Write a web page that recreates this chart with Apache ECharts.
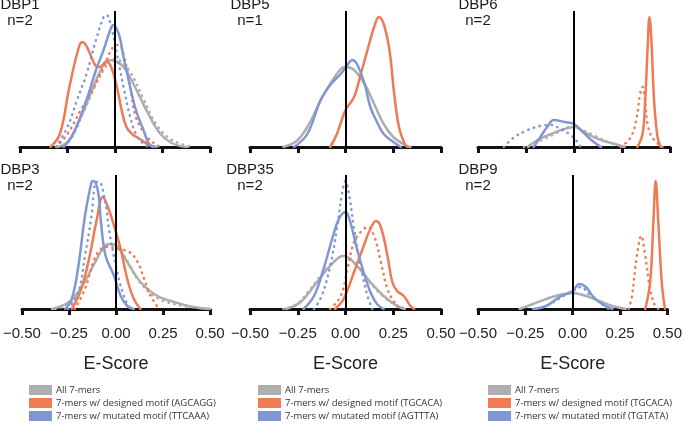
<!DOCTYPE html>
<html>
<head>
<meta charset="utf-8">
<script src="https://cdn.jsdelivr.net/npm/echarts@6/dist/echarts.min.js"></script>
<style>
html,body{margin:0;padding:0;background:#fff}
#main{width:685px;height:425px}
</style>
</head>
<body>
<div id="main"></div>
<script>
//x axis ticks
var xTicks = [-0.5, -0.25, 0, 0.25, 0.5];

//panel titles
var panelNames = ['DBP1', 'DBP5', 'DBP6', 'DBP3', 'DBP35', 'DBP9'];
var panelN = [2, 1, 2, 2, 2, 2];

//legend text per column
var legendCol1 = ['All 7-mers', '7-mers w/ designed motif (AGCAGG)', '7-mers w/ mutated motif (TTCAAA)'];
var legendCol2 = ['All 7-mers', '7-mers w/ designed motif (TGCACA)', '7-mers w/ mutated motif (AGTTTA)'];
var legendCol3 = ['All 7-mers', '7-mers w/ designed motif (TGCACA)', '7-mers w/ mutated motif (TGTATA)'];

//density curves [E-score, relative density], rep 1 = solid, rep 2 = dotted
//DBP1
var dbp1All1 = [[-0.31,0],[-0.25,5],[-0.18,30],[-0.11,62],[-0.08,75],[-0.035,87],[0,86],[0.045,80],[0.1,62],[0.17,35],[0.24,13],[0.31,3],[0.38,0]];
var dbp1All2 = [[-0.3,0],[-0.24,6],[-0.17,33],[-0.1,63],[-0.05,80],[-0.01,88],[0.03,86],[0.08,75],[0.15,48],[0.22,22],[0.3,7],[0.41,0]];
var dbp1Des1 = [[-0.34,0],[-0.29,13],[-0.24,60],[-0.19,100],[-0.17,105],[-0.14,97],[-0.105,82],[-0.08,80],[-0.045,85],[-0.02,80],[0.01,60],[0.035,37],[0.06,20],[0.09,13],[0.13,8],[0.17,3],[0.2,0]];
var dbp1Des2 = [[-0.31,0],[-0.25,13],[-0.18,37],[-0.11,60],[-0.06,80],[-0.01,100],[0.02,102],[0.045,93],[0.08,60],[0.11,30],[0.17,10],[0.22,2],[0.25,0]];
var dbp1Mut1 = [[-0.27,0],[-0.22,13],[-0.15,47],[-0.1,77],[-0.06,97],[-0.025,117],[-0.01,122],[0.02,113],[0.045,90],[0.08,60],[0.11,37],[0.15,17],[0.18,3],[0.22,0]];
var dbp1Mut2 = [[-0.31,0],[-0.25,20],[-0.2,47],[-0.15,73],[-0.1,107],[-0.06,130],[-0.045,132],[-0.02,120],[0.01,93],[0.045,60],[0.08,30],[0.11,13],[0.15,3],[0.18,0]];
//DBP5
var dbp5All1 = [[-0.325,0],[-0.25,7],[-0.18,27],[-0.13,47],[-0.08,63],[-0.025,78],[0,80],[0.045,77],[0.1,63],[0.15,43],[0.2,23],[0.25,10],[0.31,2],[0.34,0]];
var dbp5Des1 = [[-0.08,0],[-0.045,13],[0,37],[0.045,50],[0.08,73],[0.115,97],[0.15,120],[0.175,130],[0.2,123],[0.23,97],[0.255,53],[0.28,20],[0.31,3],[0.325,0]];
var dbp5Mut1 = [[-0.27,0],[-0.2,13],[-0.13,47],[-0.08,62],[-0.025,73],[0.01,82],[0.035,87],[0.06,83],[0.1,63],[0.13,40],[0.17,23],[0.2,13],[0.25,5],[0.29,0]];
//DBP6
var dbp6All1 = [[-0.24,0],[-0.19,7],[-0.12,13],[-0.05,18],[0,20],[0.07,13],[0.14,7],[0.23,2],[0.26,0]];
var dbp6All2 = [[-0.26,0],[-0.19,5],[-0.1,13],[-0.02,20],[0.03,18],[0.1,12],[0.19,4],[0.28,0]];
var dbp6Des1 = [[0.33,0],[0.357,13],[0.371,47],[0.383,97],[0.393,130],[0.404,103],[0.417,47],[0.435,10],[0.452,0]];
var dbp6Des2 = [[0.243,0],[0.296,10],[0.327,30],[0.344,53],[0.357,60],[0.369,47],[0.386,20],[0.417,7],[0.461,0]];
var dbp6Mut1 = [[-0.21,0],[-0.175,10],[-0.14,20],[-0.105,27],[-0.05,25],[0,23],[0.035,17],[0.09,7],[0.14,0]];
var dbp6Mut2 = [[-0.365,0],[-0.31,10],[-0.24,17],[-0.175,21],[-0.12,22],[-0.07,18],[-0.025,13],[0.01,7],[0.035,0]];
//DBP3
var dbp3All1 = [[-0.34,0],[-0.25,7],[-0.18,23],[-0.11,47],[-0.06,63],[-0.025,65],[0.01,62],[0.06,47],[0.13,27],[0.22,13],[0.31,7],[0.41,2],[0.5,0]];
var dbp3All2 = [[-0.325,0],[-0.237,7],[-0.167,27],[-0.096,53],[-0.044,63],[-0.009,64],[0.044,53],[0.114,30],[0.202,13],[0.307,5],[0.447,1]];
var dbp3Des1 = [[-0.235,0],[-0.185,20],[-0.14,53],[-0.105,87],[-0.07,112],[-0.045,103],[-0.01,83],[0.025,60],[0.06,30],[0.095,10],[0.13,0]];
var dbp3Des2 = [[-0.22,0],[-0.165,20],[-0.115,50],[-0.08,60],[-0.045,62],[0.01,60],[0.07,57],[0.115,47],[0.15,30],[0.185,13],[0.23,0]];
var dbp3Mut1 = [[-0.27,0],[-0.235,10],[-0.2,43],[-0.165,93],[-0.13,127],[-0.12,128],[-0.095,117],[-0.08,87],[-0.055,53],[-0.01,33],[0.025,13],[0.06,3],[0.095,0]];
var dbp3Mut2 = [[-0.255,0],[-0.2,17],[-0.165,53],[-0.13,93],[-0.105,127],[-0.09,127],[-0.06,110],[-0.035,77],[0,43],[0.035,17],[0.07,2],[0.09,0]];
//DBP35
var dbp35All1 = [[-0.31,0],[-0.235,7],[-0.165,23],[-0.095,40],[-0.045,50],[-0.02,53],[0.01,52],[0.06,43],[0.13,27],[0.2,13],[0.27,3],[0.31,0]];
var dbp35All2 = [[-0.325,0],[-0.254,5],[-0.184,20],[-0.114,37],[-0.044,50],[-0.009,53],[0.044,47],[0.114,30],[0.184,15],[0.254,5],[0.325,0]];
var dbp35Des1 = [[-0.055,0],[-0.01,10],[0.045,37],[0.095,63],[0.13,80],[0.16,88],[0.185,82],[0.22,53],[0.245,27],[0.27,18],[0.305,13],[0.34,3],[0.36,0]];
var dbp35Des2 = [[-0.08,0],[-0.025,13],[0.01,40],[0.045,67],[0.08,77],[0.115,82],[0.15,73],[0.185,47],[0.22,20],[0.255,7],[0.29,0]];
var dbp35Mut1 = [[-0.22,0],[-0.165,13],[-0.115,40],[-0.07,70],[-0.035,90],[0,97],[0.025,87],[0.06,60],[0.095,37],[0.13,17],[0.165,5],[0.2,0]];
var dbp35Mut2 = [[-0.165,0],[-0.125,13],[-0.08,43],[-0.045,80],[-0.02,113],[0,128],[0.02,113],[0.045,80],[0.08,43],[0.115,13],[0.14,0]];
//DBP9
var dbp9All1 = [[-0.28,0],[-0.21,5],[-0.14,10],[-0.07,14],[0,16],[0.07,13],[0.14,8],[0.21,3],[0.28,0]];
var dbp9Des1 = [[0.383,0],[0.409,27],[0.426,87],[0.438,128],[0.452,87],[0.47,27],[0.487,0]];
var dbp9Des2 = [[0.296,0],[0.313,13],[0.339,53],[0.362,73],[0.383,53],[0.409,20],[0.435,3],[0.452,0]];
var dbp9Mut1 = [[-0.21,0],[-0.14,3],[-0.07,12],[0,18],[0.035,25],[0.07,22],[0.105,13],[0.155,5],[0.21,0]];
var dbp9Mut2 = [[-0.19,0],[-0.12,5],[-0.05,13],[0,18],[0.045,22],[0.085,15],[0.14,7],[0.19,0]];

var curves = [
	{all: [dbp1All1, dbp1All2], des: [dbp1Des1, dbp1Des2], mut: [dbp1Mut1, dbp1Mut2]},
	{all: [dbp5All1], des: [dbp5Des1], mut: [dbp5Mut1]},
	{all: [dbp6All1, dbp6All2], des: [dbp6Des1, dbp6Des2], mut: [dbp6Mut1, dbp6Mut2]},
	{all: [dbp3All1, dbp3All2], des: [dbp3Des1, dbp3Des2], mut: [dbp3Mut1, dbp3Mut2]},
	{all: [dbp35All1, dbp35All2], des: [dbp35Des1, dbp35Des2], mut: [dbp35Mut1, dbp35Mut2]},
	{all: [dbp9All1], des: [dbp9Des1, dbp9Des2], mut: [dbp9Mut1, dbp9Mut2]}
];
var legends = [legendCol1, legendCol2, legendCol3];

var GRAY = '#aeaeae', ORANGE = '#f07a52', BLUE = '#7f98d4';
var colLeft = [20, 250, 478], colWidth = [190, 191, 192];
var rowTop = [11, 175], rowHeight = [136, 134];

function fmtTick(v){
	return (v < 0 ? '\u2212' : '') + Math.abs(v).toFixed(2);
}

function lineSeries(idx, data, color, dotted){
	return {
		type: 'line',
		xAxisIndex: idx,
		yAxisIndex: idx,
		data: data,
		showSymbol: false,
		smooth: 0.4,
		silent: true,
		lineStyle: {
			color: color,
			width: 2.5,
			type: dotted ? [0.5, 5.5] : 'solid',
			cap: 'round',
			join: 'round'
		},
		itemStyle: {color: color}
	};
}

var chart = echarts.init(document.getElementById('main'));
var grids = [], xAxes = [], yAxes = [], series = [], graphics = [];

for (var i = 0; i < 6; i++) {
	var col = i % 3, row = Math.floor(i / 3);
	grids.push({left: colLeft[col], top: rowTop[row], width: colWidth[col], height: rowHeight[row]});
	xAxes.push({
		gridIndex: i,
		type: 'value',
		min: xTicks[0],
		max: xTicks[xTicks.length - 1],
		interval: 0.25,
		axisLine: {lineStyle: {color: '#111', width: 3}},
		axisTick: {show: true, length: 6, lineStyle: {color: '#111', width: 3}},
		axisLabel: {
			show: row == 1,
			formatter: fmtTick,
			fontFamily: 'Liberation Sans',
			fontSize: 15,
			color: '#222',
			margin: 17,
			showMinLabel: true,
			showMaxLabel: true,
			hideOverlap: false
		},
		splitLine: {show: false},
		name: row == 1 ? 'E-Score' : '',
		nameLocation: 'middle',
		nameGap: 46,
		nameTextStyle: {fontFamily: 'Liberation Sans', fontSize: 18, color: '#222'}
	});
	yAxes.push({gridIndex: i, type: 'value', min: 0, max: rowHeight[row], show: false});

	var c = curves[i];
	var groups = [[c.all, GRAY], [c.des, ORANGE], [c.mut, BLUE]];
	for (var g = 0; g < groups.length; g++) {
		var reps = groups[g][0];
		for (var r = reps.length - 1; r >= 0; r--) {
			series.push(lineSeries(i, reps[r], groups[g][1], r == 1));
		}
	}
	//zero line
	var last = series[series.length - 1];
	last.markLine = {
		silent: true,
		symbol: ['none', 'none'],
		label: {show: false},
		lineStyle: {color: '#000', width: 2, type: 'solid'},
		data: [{xAxis: 0}]
	};

	//panel title
	graphics.push({
		type: 'text',
		x: colLeft[col],
		y: row == 0 ? -3 : 162,
		style: {
			text: panelNames[i] + '\nn=' + panelN[i],
			font: '15px "Liberation Sans"',
			lineHeight: 16,
			align: 'center',
			verticalAlign: 'top',
			fill: '#1a1a1a'
		}
	});
}

//legends under each column
var swatchX = [29, 258, 488];
var swatchColors = [GRAY, ORANGE, BLUE];
for (var k = 0; k < 3; k++) {
	for (var j = 0; j < 3; j++) {
		graphics.push({
			type: 'rect',
			shape: {x: swatchX[k], y: 385 + j * 13, width: 23, height: 10},
			style: {fill: swatchColors[j]}
		});
		graphics.push({
			type: 'text',
			x: swatchX[k] + 27,
			y: 390 + j * 13,
			style: {
				text: legends[k][j],
				font: '9.5px "Open Sans"',
				verticalAlign: 'middle',
				fill: '#333'
			}
		});
	}
}

var option = {
	animation: false,
	backgroundColor: '#fff',
	grid: grids,
	xAxis: xAxes,
	yAxis: yAxes,
	series: series,
	graphic: graphics
};
chart.setOption(option);
</script>
</body>
</html>
